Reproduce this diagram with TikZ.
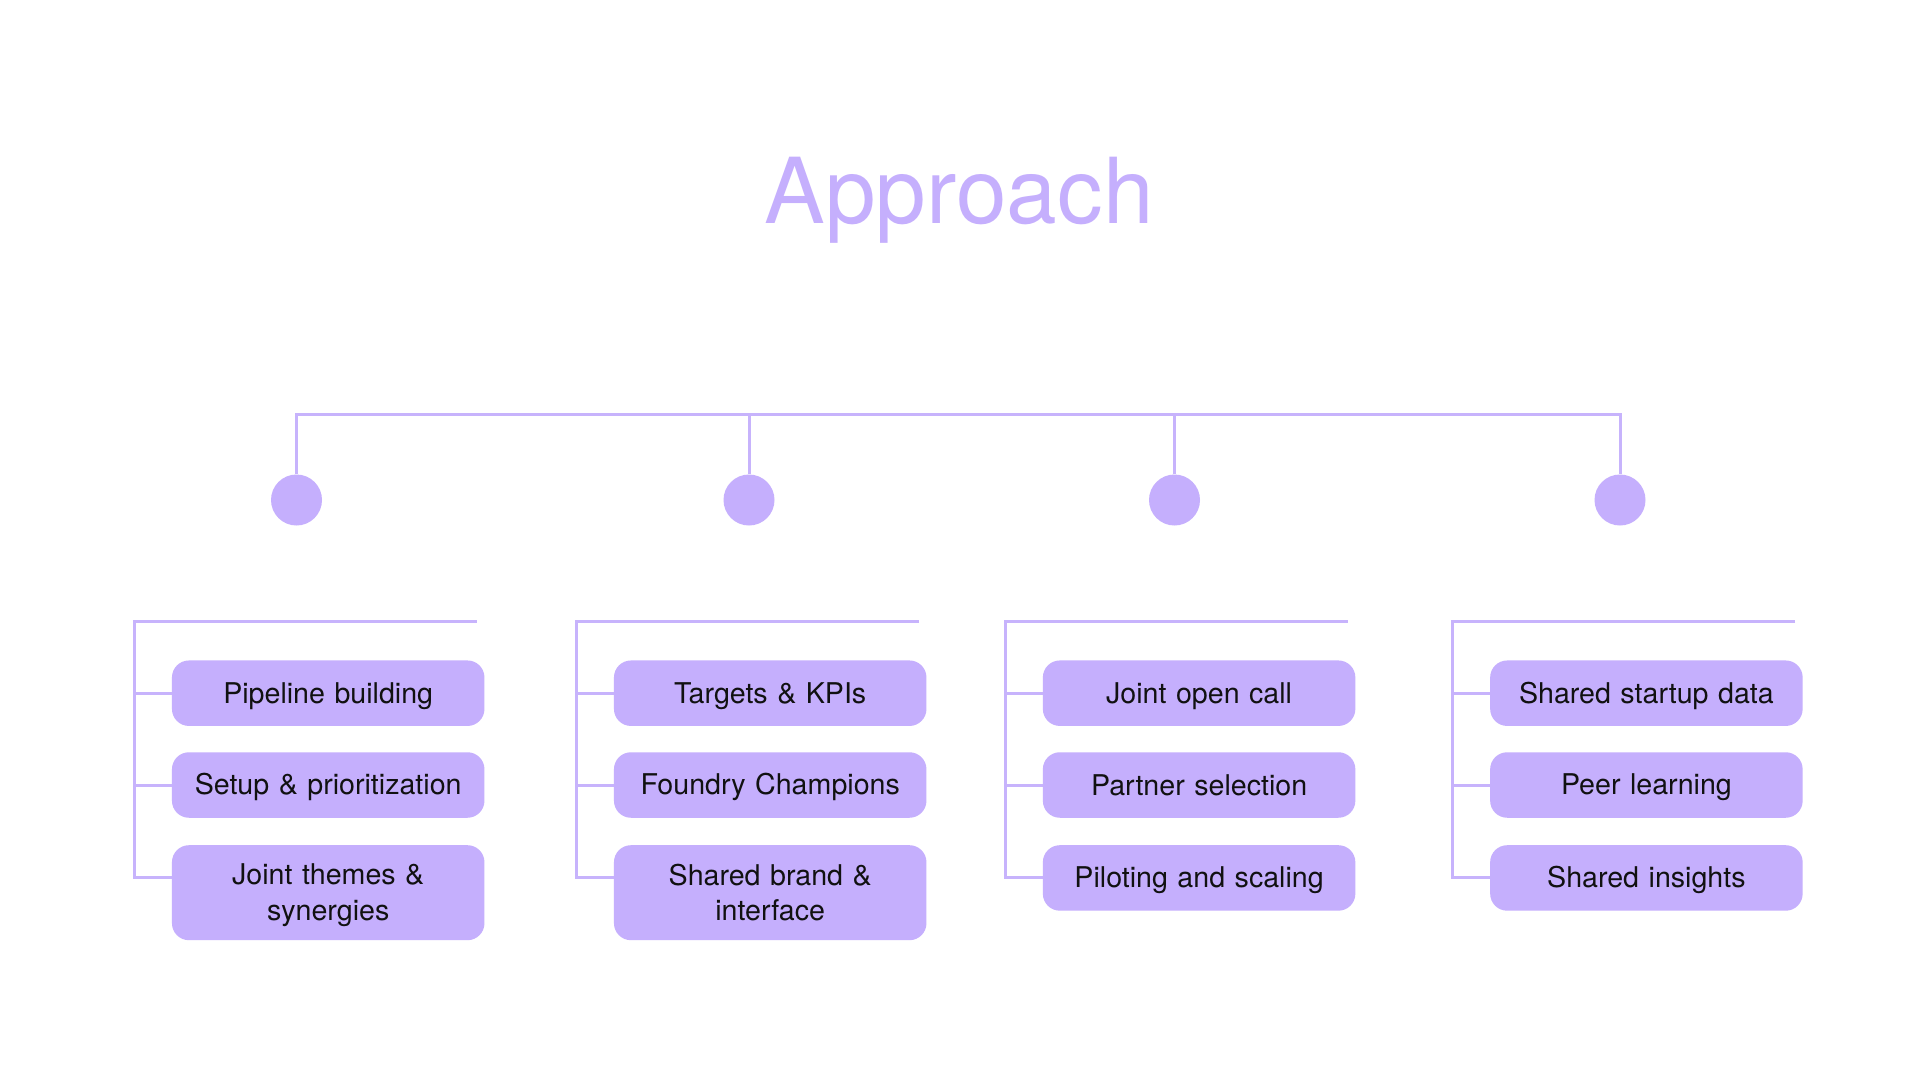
\documentclass[tikz,border=0pt]{standalone}
\usepackage{fontspec}
\setmainfont{TeX Gyre Heros}
\definecolor{lav}{HTML}{C5AFFD}
\definecolor{lavline}{HTML}{C7B3FC}
\definecolor{txt}{HTML}{111111}
\newcommand\boxstrut{\rule[-5.5pt]{0pt}{31.5pt}}
\begin{document}
\begin{tikzpicture}[x=1pt,y=-1pt,
  ln/.style={draw=lavline,line width=3pt},
  dot/.style={circle,fill=lav,minimum size=51pt,inner sep=0pt},
  itembox/.style={rectangle,rounded corners=17pt,fill=lav,minimum width=312.5pt,
    minimum height=65.5pt,inner sep=0pt,text width=300pt,align=center,text=txt,
    font=\fontsize{28.6}{35.5}\selectfont,
    execute at begin node={\boxstrut},execute at end node={\boxstrut}},
  tallbox/.style={itembox,minimum height=95pt},
  titletext/.style={text=lav,font=\fontsize{91}{100}\selectfont,inner sep=0pt,anchor=base}]
\fill[white] (0,0) rectangle (1921,1081);
\useasboundingbox (0,0) rectangle (1921,1081);

\node[titletext] (title) at (959,223) {Approach};

% circles
\node[dot] (c1) at (296.5,500) {};
\node[dot] (c2) at (749,500) {};
\node[dot] (c3) at (1174.5,500) {};
\node[dot] (c4) at (1620,500) {};

\coordinate (h1) at (296.5,414);
\coordinate (h2) at (749,414);
\coordinate (h3) at (1174.5,414);
\coordinate (h4) at (1620,414);
\draw[ln] (c1.north) -- (h1) -- (h4) -- (c4.north);
\draw[ln] (c2.north) -- (h2);
\draw[ln] (c3.north) -- (h3);

% boxes column 1
\node[itembox] (b11) at (328.2,693.2) {Pipeline building};
\node[itembox] (b12) at (328.2,785) {Setup \& prioritization};
\node[tallbox,anchor=north] (b13) at (328.2,845) {Joint themes \&\\synergies};
% column 2
\node[itembox] (b21) at (770.2,693.2) {Targets \& KPIs};
\node[itembox] (b22) at (770.2,785) {Foundry Champions};
\node[tallbox,anchor=north] (b23) at (770.2,845) {Shared brand \&\\interface};
% column 3
\node[itembox] (b31) at (1199.1,693.2) {Joint open call};
\node[itembox] (b32) at (1199.1,785) {Partner selection};
\node[itembox,anchor=north] (b33) at (1199.1,845) {Piloting and scaling};
% column 4
\node[itembox] (b41) at (1646.4,693.2) {Shared startup data};
\node[itembox] (b42) at (1646.4,785) {Peer learning};
\node[itembox,anchor=north] (b43) at (1646.4,845) {Shared insights};

% brackets
\coordinate (k1) at (134,621);   \coordinate (e1) at (476.5,621);
\coordinate (k2) at (576,621);   \coordinate (e2) at (919,621);
\coordinate (k3) at (1005,621);  \coordinate (e3) at (1347.7,621);
\coordinate (k4) at (1452.7,621);\coordinate (e4) at (1795,621);

\foreach \i in {1,2,3,4}{
  \draw[ln] (e\i) -- (k\i) |- ([yshift=-32.75pt]b\i3.north west);
  \draw[ln] (k\i |- b\i1.west) -- (b\i1.west);
  \draw[ln] (k\i |- b\i2.west) -- (b\i2.west);
}
\end{tikzpicture}
\end{document}
